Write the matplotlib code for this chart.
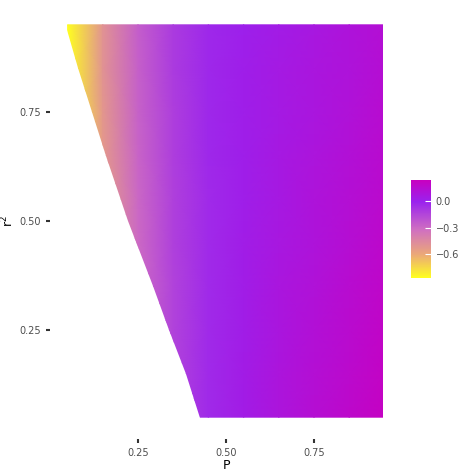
import matplotlib
matplotlib.use("Agg")
import matplotlib.pyplot as plt
import numpy as np
from matplotlib.colors import LinearSegmentedColormap
from matplotlib.patches import Polygon

# grid of values (rows = r^2, cols = P)
p_grid = [0.05, 0.15, 0.25, 0.35, 0.45, 0.55, 0.65, 0.75, 0.85, 0.95]
r2_grid = [0.05, 0.15, 0.25, 0.35, 0.45, 0.55, 0.65, 0.75, 0.85, 0.95]
values = [
    [-0.90, -0.55, -0.30, -0.14, -0.04, 0.04, 0.09, 0.14, 0.18, 0.22],
    [-0.90, -0.55, -0.30, -0.14, -0.04, 0.04, 0.09, 0.13, 0.17, 0.21],
    [-0.90, -0.55, -0.30, -0.14, -0.04, 0.03, 0.08, 0.12, 0.16, 0.20],
    [-0.90, -0.55, -0.30, -0.14, -0.04, 0.03, 0.08, 0.11, 0.15, 0.19],
    [-0.90, -0.55, -0.30, -0.13, -0.04, 0.03, 0.07, 0.10, 0.14, 0.18],
    [-0.90, -0.55, -0.29, -0.13, -0.04, 0.02, 0.06, 0.10, 0.13, 0.17],
    [-0.90, -0.53, -0.28, -0.12, -0.03, 0.02, 0.06, 0.09, 0.12, 0.16],
    [-0.88, -0.52, -0.27, -0.12, -0.03, 0.02, 0.05, 0.08, 0.11, 0.15],
    [-0.87, -0.50, -0.26, -0.11, -0.03, 0.02, 0.05, 0.08, 0.10, 0.14],
    [-0.87, -0.50, -0.25, -0.11, -0.03, 0.01, 0.04, 0.07, 0.10, 0.13],
]

# left edge of the filled region, per r^2
edge_r2 = [0.048, 0.15, 0.25, 0.35, 0.50, 0.65, 0.75, 0.85, 0.954]
edge_p = [0.426, 0.385, 0.338, 0.292, 0.222, 0.158, 0.118, 0.080, 0.043]
p_max = 0.946

cmap = LinearSegmentedColormap.from_list(
    "pl", [(0.0, "#ffff20"), (0.24, "#eba878"), (0.49, "#d070c0"),
           (0.78, "#9a22ee"), (1.0, "#c800c0")])
vmin, vmax = -0.87, 0.24

fig = plt.figure(figsize=(4.74, 4.74), dpi=100)
ax = fig.add_axes([50/474, 35/474, 352/474, 436/474])
mesh = ax.pcolormesh(p_grid, r2_grid, np.array(values), shading="gouraud",
                     cmap=cmap, vmin=vmin, vmax=vmax)
poly_pts = list(zip(edge_p, edge_r2)) + [(p_max, edge_r2[-1]), (p_max, edge_r2[0])]
clip = Polygon(poly_pts, closed=True, transform=ax.transData)
mesh.set_clip_path(clip)
# extend mesh to cover region edges
ax.set_xlim(0, 1)
ax.set_ylim(0, 1)
for s in ax.spines.values():
    s.set_visible(False)
ax.set_xticks([0.25, 0.5, 0.75])
ax.set_xticklabels(["0.25", "0.50", "0.75"])
ax.set_yticks([0.25, 0.5, 0.75])
ax.set_yticklabels(["0.25", "0.50", "0.75"])
ax.tick_params(length=3, width=1.5, labelsize=7, colors="#333333", labelcolor="#4d4d4d")
ax.set_xlabel("P", fontsize=9, labelpad=1)
ax.set_ylabel("r$^2$", fontsize=9, labelpad=2)

cax = fig.add_axes([411/474, (474-278)/474, 20/474, 98/474])
cb = fig.colorbar(mesh, cax=cax, ticks=[0.0, -0.3, -0.6])
cb.ax.set_yticklabels(["0.0", "\u22120.3", "\u22120.6"])
cb.outline.set_visible(False)
cb.ax.tick_params(length=4, color="white", labelsize=7, labelcolor="#4d4d4d", direction="in")

fig.savefig("out.png", dpi=100)
